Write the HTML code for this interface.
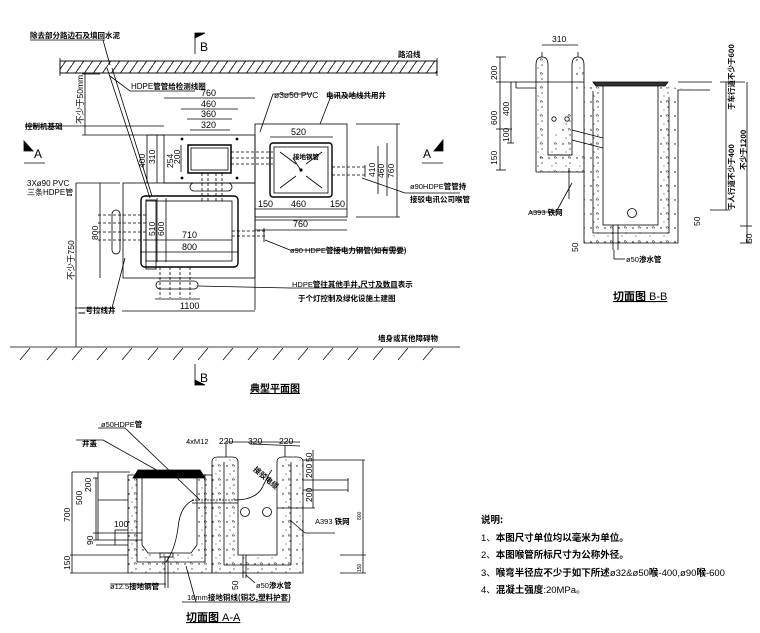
<!DOCTYPE html>
<html><head><meta charset="utf-8"><style>
html,body{margin:0;padding:0;background:#fff;}
svg{display:block;}
text{font-family:"Liberation Sans","Noto Sans CJK SC",sans-serif;fill:#000;}
.cn{font-family:"Noto Sans CJK SC","WenQuanYi Zen Hei",sans-serif;font-weight:bold;}
</style></head><body>
<svg width="760" height="633" viewBox="0 0 760 633" xmlns="http://www.w3.org/2000/svg">
<defs>
<pattern id="hatch" width="9" height="13" patternUnits="userSpaceOnUse">
<line x1="0" y1="13" x2="9" y2="0" stroke="#000" stroke-width="0.8"/>
</pattern>
<pattern id="conc" width="14" height="14" patternUnits="userSpaceOnUse">
<circle cx="3" cy="4" r="0.7" fill="#000"/><circle cx="10" cy="9" r="0.6" fill="#000"/><circle cx="6" cy="12" r="0.5" fill="#000"/><path d="M9 2 l2 2 h-3z" fill="none" stroke="#000" stroke-width="0.4"/>
</pattern>
</defs>
<g fill="none" stroke="#000" stroke-width="0.8">
<rect x="60" y="61" width="377" height="12" fill="url(#hatch)"/>
<line x1="60" y1="61" x2="437" y2="61"/><line x1="60" y1="73" x2="437" y2="73"/>
<line x1="60" y1="58" x2="60" y2="76"/><line x1="437" y1="58" x2="437" y2="76"/>
<line x1="195" y1="33" x2="195" y2="54"/><polygon points="195,33 205,33 195,38" fill="#000"/>
<line x1="195" y1="364" x2="195" y2="385"/><polygon points="195,385 205,385 195,380" fill="#000"/>
<polygon points="24,151 24,141 33,151" fill="#000"/><line x1="24" y1="163" x2="45" y2="163"/>
<polygon points="443,151 443,140 434,151" fill="#000"/><line x1="422" y1="163" x2="443" y2="163"/>
<line x1="10" y1="347" x2="460" y2="347"/>
<g stroke-width="0.7">
<path d="M20 360 l10 -12 M47 360 l10 -12 M72 360 l10 -12 M97 360 l10 -12 M122 360 l10 -12 M148 360 l10 -12 M173 360 l10 -12 M198 360 l10 -12 M223 360 l10 -12 M248 360 l10 -12 M273 360 l10 -12 M298 360 l10 -12 M323 360 l10 -12 M348 360 l10 -12 M373 360 l10 -12 M398 360 l10 -12 M423 360 l10 -12"/>
</g>
<line x1="30" y1="40" x2="105" y2="40"/><line x1="103" y1="40" x2="110" y2="65"/>
<line x1="107" y1="68" x2="150" y2="198"/><line x1="112" y1="68" x2="152" y2="196"/>
<line x1="110" y1="76" x2="130" y2="91"/><line x1="130" y1="91" x2="195" y2="91"/>
<line x1="85" y1="74" x2="85" y2="135"/><line x1="82" y1="74" x2="100" y2="74"/><line x1="82" y1="135" x2="164" y2="135"/>
<line x1="25" y1="126" x2="164" y2="126"/>
<rect x="164" y="135" width="91" height="48"/>
<rect x="188" y="145" width="43" height="28" stroke-width="1.5"/>
<rect x="191" y="148" width="37" height="22"/>
<circle cx="182" cy="139" r="1" fill="#000"/><circle cx="237" cy="139" r="1" fill="#000"/><circle cx="182" cy="178" r="1" fill="#000"/><circle cx="237" cy="178" r="1" fill="#000"/>
<line x1="164" y1="98" x2="255" y2="98"/><line x1="181" y1="109" x2="238" y2="109"/><line x1="187" y1="119" x2="232" y2="119"/><line x1="190" y1="130" x2="230" y2="130"/>
<line x1="147" y1="135" x2="147" y2="183"/><line x1="157" y1="135" x2="157" y2="183"/><line x1="181" y1="145" x2="181" y2="172"/>
<line x1="147" y1="135" x2="164" y2="135"/>
<g stroke-dasharray="3,2"><line x1="231" y1="152" x2="273" y2="152"/><line x1="231" y1="158" x2="273" y2="158"/><line x1="231" y1="164" x2="273" y2="164"/>
<line x1="332" y1="167" x2="365" y2="167"/><line x1="332" y1="175" x2="365" y2="175"/>
<line x1="202" y1="173" x2="202" y2="203"/><line x1="208" y1="173" x2="208" y2="203"/><line x1="216" y1="173" x2="216" y2="203"/><line x1="222" y1="173" x2="222" y2="203"/></g>
<line x1="365" y1="165" x2="365" y2="177"/>
<rect x="255" y="124" width="92" height="93"/>
<rect x="270" y="143" width="62" height="54" rx="3" stroke-width="1.4"/>
<rect x="274" y="147" width="54" height="46"/>
<line x1="280" y1="152" x2="296" y2="164"/><line x1="322" y1="152" x2="306" y2="164"/><line x1="280" y1="188" x2="296" y2="176"/><line x1="322" y1="188" x2="306" y2="176"/>
<circle cx="301" cy="170" r="1.2" fill="#000"/><line x1="293" y1="158" x2="300" y2="169"/>
<line x1="270" y1="137" x2="333" y2="137"/>
<line x1="255" y1="209" x2="347" y2="209"/><line x1="255" y1="220" x2="347" y2="220"/>
<line x1="255" y1="230" x2="347" y2="230"/>
<line x1="356" y1="124" x2="400" y2="124"/><line x1="356" y1="217" x2="400" y2="217"/>
<line x1="378" y1="146" x2="378" y2="194"/><line x1="387" y1="143" x2="387" y2="196"/><line x1="397" y1="124" x2="397" y2="217"/>
<line x1="255" y1="195" x2="255" y2="310"/>
<line x1="260" y1="132" x2="273" y2="94"/><line x1="273" y1="94" x2="312" y2="94"/>
<line x1="320" y1="124" x2="331" y2="96"/><line x1="331" y1="96" x2="375" y2="96"/>
<line x1="362" y1="178" x2="405" y2="193"/><line x1="405" y1="193" x2="460" y2="193"/>
<rect x="123" y="183" width="132" height="95"/>
<rect x="141" y="196" width="97" height="71" rx="4" stroke-width="1.4"/>
<rect x="146" y="201" width="86" height="60"/>
<rect x="146" y="200" width="10" height="69"/>
<rect x="190" y="183" width="42" height="8" rx="4"/>
<rect x="156" y="281" width="42" height="8" rx="4"/>
<rect x="112" y="210" width="8" height="44" rx="4"/>
<g stroke-dasharray="3,2">
<line x1="98" y1="215" x2="146" y2="215"/><line x1="98" y1="223" x2="146" y2="223"/><line x1="98" y1="232" x2="146" y2="232"/><line x1="98" y1="240" x2="146" y2="240"/>
<line x1="160" y1="267" x2="160" y2="298"/><line x1="170" y1="267" x2="170" y2="298"/><line x1="180" y1="267" x2="180" y2="298"/><line x1="190" y1="267" x2="190" y2="298"/>
<line x1="232" y1="231" x2="265" y2="231"/><line x1="232" y1="236" x2="265" y2="236"/></g>
<line x1="264" y1="228" x2="264" y2="242"/>
<line x1="265" y1="240" x2="290" y2="250"/><line x1="290" y1="250" x2="405" y2="250"/>
<line x1="198" y1="286" x2="290" y2="288"/><line x1="290" y1="288" x2="398" y2="288"/>
<line x1="100" y1="183" x2="100" y2="278"/><line x1="76" y1="183" x2="120" y2="183"/>
<line x1="76" y1="183" x2="76" y2="347"/>
<line x1="157" y1="198" x2="157" y2="262"/><line x1="166" y1="198" x2="166" y2="262"/>
<line x1="146" y1="240" x2="232" y2="240"/><line x1="140" y1="252" x2="238" y2="252"/>
<line x1="122" y1="311" x2="255" y2="311"/>
<line x1="155" y1="299" x2="200" y2="299"/>
<line x1="125" y1="258" x2="112" y2="308"/><line x1="75" y1="308" x2="112" y2="308"/>
</g>
<g font-size="9">
<text x="30" y="38" class="cn" font-size="7.5">除去部分路边石及填回水泥</text>
<text x="200" y="51" font-size="12">B</text>
<text x="200" y="382" font-size="12">B</text>
<text x="34" y="158" font-size="12">A</text>
<text x="423" y="158" font-size="12">A</text>
<text x="398" y="57" class="cn" font-size="7.5">路沿线</text>
<text x="131" y="89" font-size="8">HDPE<tspan class="cn" font-size="7.5">管管给检测线圈</tspan></text>
<text x="201" y="96">760</text><text x="201" y="107">460</text><text x="201" y="117">360</text><text x="201" y="128">320</text>
<text x="274" y="98" font-size="8.5">ø3ø50 PVC</text>
<text x="326" y="98" class="cn" font-size="7.5">电讯及地线共用井</text>
<text x="291" y="135">520</text>
<text x="293" y="159" class="cn" font-size="6.5">接地钢管</text>
<text x="25" y="129" class="cn" font-size="7.5">控制机基础</text>
<text x="27" y="186" font-size="8">3Xø90 PVC</text>
<text x="27" y="195" font-size="8">三条HDPE管</text>
<text x="410" y="189" font-size="7.5">ø90HDPE<tspan class="cn">管管持</tspan></text>
<text x="410" y="202" class="cn" font-size="7.5">接驳电讯公司喉管</text>
<text x="258" y="207">150</text><text x="291" y="207">460</text><text x="330" y="207">150</text>
<text x="293" y="227">760</text>
<text x="182" y="238">710</text><text x="182" y="250">800</text>
<text x="290" y="253" font-size="7.5">ø90 HDPE<tspan class="cn">管接电力钢管(如有需要)</tspan></text>
<text x="292" y="287" font-size="7.5">HDPE<tspan class="cn">管往其他手井,尺寸及数目表示</tspan></text>
<text x="298" y="301" class="cn" font-size="7.5">于个灯控制及绿化设施土建图</text>
<text x="180" y="309">1100</text>
<text x="78" y="313" class="cn" font-size="7.5">二号拉线井</text>
<text x="378" y="341" class="cn" font-size="7.5">墙身或其他障碍物</text>
<text x="250" y="392" class="cn" font-size="10" text-decoration="underline">典型平面图</text>
</g>
<g font-size="8.5">
<text transform="translate(83,124) rotate(-90)">不少于50mm</text>
<text transform="translate(145,168) rotate(-90)">400</text>
<text transform="translate(155,164) rotate(-90)">310</text>
<text transform="translate(173,168) rotate(-90)">254</text>
<text transform="translate(180,164) rotate(-90)">200</text>
<text transform="translate(375,177) rotate(-90)">410</text>
<text transform="translate(384,178) rotate(-90)">460</text>
<text transform="translate(394,178) rotate(-90)">760</text>
<text transform="translate(98,240) rotate(-90)">800</text>
<text transform="translate(155,236) rotate(-90)">510</text>
<text transform="translate(164,236) rotate(-90)">600</text>
<text transform="translate(74,280) rotate(-90)">不少于750</text>
</g>

<g fill="none" stroke="#000" stroke-width="0.8">
<line x1="515" y1="82" x2="584" y2="82"/><line x1="678" y1="82" x2="712" y2="82"/>
<line x1="516" y1="82" x2="516" y2="88"/><line x1="516" y1="88" x2="536" y2="88"/>
<path d="M536 172 V65 Q536 57 542 57 Q548 57 548 65 V155 H572 V65 Q572 57 578 57 Q584 57 584 65 V82" fill="url(#conc)"/>
<path d="M536 172 H584" />
<rect x="536" y="155" width="48" height="17" fill="url(#conc)" stroke="none"/>
<line x1="548" y1="155" x2="572" y2="155"/>
<line x1="542" y1="52" x2="542" y2="57"/><line x1="578" y1="52" x2="578" y2="57"/>
<line x1="542" y1="45" x2="578" y2="45"/>
<circle cx="554" cy="119" r="2.2"/><circle cx="567" cy="119" r="2.2"/>
<path d="M584 82 V243 H678 V90 H710" fill="url(#conc)"/>
<rect x="603" y="85" width="55" height="140" fill="#fff"/>
<polygon points="593,82 668,82 665,86 596,86" fill="#333"/>
<circle cx="632" cy="213" r="4.5"/>
<line x1="593" y1="91" x2="593" y2="233"/><line x1="669" y1="97" x2="669" y2="233"/><line x1="593" y1="233" x2="669" y2="233"/>
<line x1="613" y1="225" x2="613" y2="250"/><line x1="618" y1="225" x2="618" y2="250"/>
<line x1="614" y1="250" x2="614" y2="259"/><line x1="614" y1="259" x2="625" y2="259"/>
<line x1="572" y1="130" x2="603" y2="138"/><line x1="572" y1="140" x2="603" y2="148"/>
<line x1="569" y1="168" x2="569" y2="199"/><line x1="572" y1="183" x2="556" y2="212"/><line x1="530" y1="212" x2="556" y2="212"/>
<line x1="500" y1="57" x2="500" y2="170"/><line x1="496" y1="57" x2="506" y2="57"/><line x1="496" y1="82" x2="516" y2="82"/><line x1="496" y1="129" x2="512" y2="129"/><line x1="496" y1="170" x2="506" y2="170"/>
<line x1="511" y1="82" x2="511" y2="143"/><line x1="507" y1="143" x2="514" y2="143"/>
<line x1="726" y1="82" x2="726" y2="210"/><line x1="710" y1="210" x2="730" y2="210"/><line x1="720" y1="82" x2="745" y2="82"/>
<line x1="747" y1="82" x2="747" y2="243"/><line x1="740" y1="243" x2="752" y2="243"/><line x1="740" y1="226" x2="752" y2="226"/>
</g>
<g font-size="8.5">
<text x="552" y="42">310</text>
<text transform="translate(497,80) rotate(-90)">200</text>
<text transform="translate(497,125) rotate(-90)">600</text>
<text transform="translate(509,116) rotate(-90)">400</text>
<text transform="translate(509,142) rotate(-90)">100</text>
<text transform="translate(497,165) rotate(-90)">150</text>
<text transform="translate(734,110) rotate(-90)" class="cn" font-size="7.5">于车行道不少于600</text>
<text transform="translate(734,210) rotate(-90)" class="cn" font-size="7.5">于人行道不少于400</text>
<text transform="translate(746,170) rotate(-90)" class="cn" font-size="7.5">不少于1200</text>
<text transform="translate(752,243) rotate(-90)">50</text>
<text transform="translate(700,226) rotate(-90)">50</text>
<text transform="translate(578,252) rotate(-90)">50</text>
<text x="528" y="215" font-size="7.5">A393 <tspan class="cn">铁网</tspan></text>
<text x="626" y="262" font-size="7.5">ø50<tspan class="cn">渗水管</tspan></text>
<text x="613" y="300" font-size="11" text-decoration="underline"><tspan class="cn" font-weight="normal">切面图</tspan> B-B</text>
</g>

<g fill="none" stroke="#000" stroke-width="0.8">
<line x1="72" y1="472" x2="130" y2="472"/>
<line x1="98" y1="472" x2="98" y2="540"/><line x1="72" y1="472" x2="72" y2="573"/>
<line x1="93" y1="478" x2="98" y2="478"/><line x1="96" y1="478" x2="96" y2="540"/>
<line x1="93" y1="533" x2="142" y2="533"/><line x1="93" y1="540" x2="142" y2="540"/><line x1="96" y1="545" x2="128" y2="545"/>
<line x1="98" y1="500" x2="128" y2="500"/>
<line x1="115" y1="530" x2="128" y2="530"/><line x1="115" y1="530" x2="115" y2="545"/>
<line x1="70" y1="555" x2="128" y2="555"/><line x1="70" y1="573" x2="128" y2="573"/>
<path d="M128 573 V475 H212 V573 Z" fill="url(#conc)"/>
<path d="M142 472 V545 L148 553 L191 553 L197 545 V472 Z" fill="#fff"/>
<path d="M137 474 V562 H205 V474" />
<polygon points="133,478 138,470 200,470 205,478" fill="#000"/>
<line x1="192" y1="500" x2="238" y2="500" stroke-dasharray="2,1"/><line x1="192" y1="503" x2="238" y2="503"/>
<path d="M166 562 Q175 550 178 528 Q180 505 194 500" />
<path d="M235 500 Q255 500 262 488 Q268 475 272 470"/>
<line x1="165" y1="556" x2="165" y2="588"/><line x1="168" y1="556" x2="168" y2="588"/><rect x="160" y="553" width="13" height="4"/>
<path d="M212 573 V462 Q212 457 218 457 H232 Q238 457 238 462 V555 H277 V462 Q277 457 283 457 H297 Q303 457 303 462 V573 Z" fill="url(#conc)"/>
<circle cx="245" cy="512" r="4.5"/><circle cx="267" cy="512" r="4.5"/>
<line x1="224" y1="462" x2="224" y2="565"/><line x1="291" y1="462" x2="291" y2="565"/><line x1="224" y1="565" x2="291" y2="565"/>
<line x1="226" y1="442" x2="300" y2="442"/><line x1="250" y1="444" x2="300" y2="446"/>
<line x1="226" y1="444" x2="226" y2="457"/><line x1="285" y1="446" x2="285" y2="457"/>
<line x1="303" y1="460" x2="365" y2="460"/><line x1="303" y1="480" x2="348" y2="480"/><line x1="303" y1="490" x2="348" y2="490"/><line x1="348" y1="478" x2="348" y2="492"/>
<line x1="277" y1="508" x2="315" y2="508"/><line x1="313" y1="450" x2="313" y2="508"/>
<line x1="363" y1="460" x2="363" y2="573"/><line x1="340" y1="555" x2="366" y2="555"/><line x1="340" y1="573" x2="366" y2="573"/>
<line x1="290" y1="520" x2="305" y2="533"/><line x1="305" y1="533" x2="335" y2="533"/>
<line x1="243" y1="555" x2="243" y2="578"/><line x1="246" y1="555" x2="246" y2="578"/>
<line x1="246" y1="575" x2="255" y2="583"/>
<line x1="76" y1="440" x2="103" y2="440"/><line x1="103" y1="440" x2="160" y2="472"/>
<line x1="98" y1="428" x2="125" y2="428"/><line x1="125" y1="428" x2="200" y2="500"/>
<line x1="186" y1="566" x2="196" y2="602"/><line x1="182" y1="602" x2="290" y2="602"/>
<line x1="110" y1="584" x2="166" y2="584"/>
</g>
<g font-size="8.5">
<text x="101" y="427" font-size="7.5">ø50HDPE<tspan class="cn">管</tspan></text>
<text x="82" y="446" class="cn" font-size="7.5">井盖</text>
<text x="186" y="444" font-size="7.5">4xM12</text>
<text x="219" y="444">220</text><text x="248" y="444">320</text><text x="279" y="444">220</text>
<text x="250" y="478" class="cn" font-size="7.5" transform="rotate(40 262 478)">接驳电缆</text>
<text x="315" y="524" font-size="7.5">A393 <tspan class="cn">铁网</tspan></text>
<text x="110" y="589" font-size="7.5">ø12.5<tspan class="cn">接地钢管</tspan></text>
<text x="187" y="600" font-size="7.5">16mm<tspan class="cn">接地铜线(铜芯,塑料护套)</tspan></text>
<text x="256" y="588" font-size="7.5">ø50<tspan class="cn">渗水管</tspan></text>
<text x="186" y="621" font-size="11" text-decoration="underline"><tspan class="cn" font-weight="normal">切面图</tspan> A-A</text>
<text x="114" y="527">100</text>
<text transform="translate(70,522) rotate(-90)">700</text>
<text transform="translate(82,505) rotate(-90)">500</text>
<text transform="translate(91,492) rotate(-90)">200</text>
<text transform="translate(93,545) rotate(-90)">90</text>
<text transform="translate(70,570) rotate(-90)">150</text>
<text transform="translate(238,590) rotate(-90)">50</text>
<text transform="translate(312,478) rotate(-90)">200</text>
<text transform="translate(312,502) rotate(-90)">200</text>
<text transform="translate(312,462) rotate(-90)">50</text>
<text transform="translate(361,520) rotate(-90)" font-size="5">800</text>
<text transform="translate(361,572) rotate(-90)" font-size="5">150</text>
</g>

<g font-size="9.5">
<text x="481" y="523" class="cn" font-weight="normal">说明:</text>
<text x="481" y="541">1、<tspan class="cn" font-weight="normal">本图尺寸单位均以毫米为单位。</tspan></text>
<text x="481" y="558">2、<tspan class="cn" font-weight="normal">本图喉管所标尺寸为公称外径。</tspan></text>
<text x="481" y="576">3、<tspan class="cn" font-weight="normal">喉弯半径应不少于如下所述</tspan>ø32&amp;ø50<tspan class="cn" font-weight="normal">喉</tspan>-400,ø90<tspan class="cn" font-weight="normal">喉</tspan>-600</text>
<text x="481" y="593">4、<tspan class="cn" font-weight="normal">混凝土强度</tspan>:20MPa。</text>
</g>
</svg>
</body></html>
